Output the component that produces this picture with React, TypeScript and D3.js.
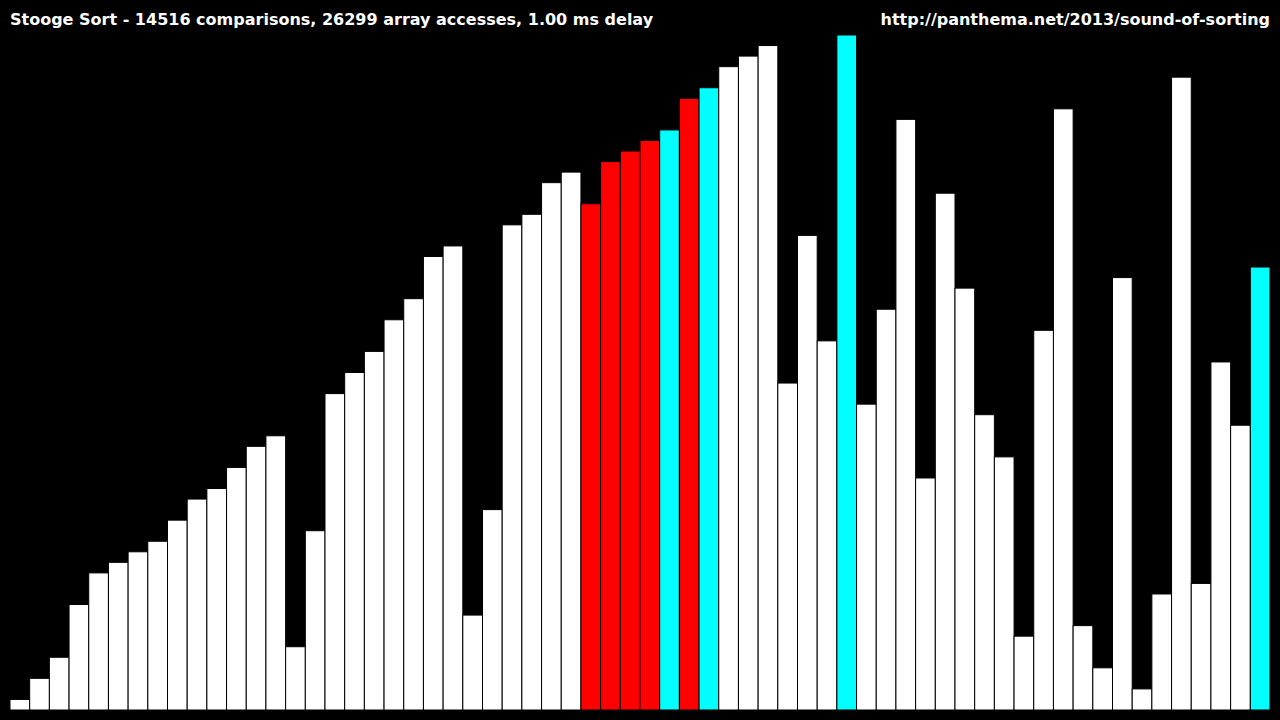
import React from "react";
import * as d3 from "d3";

const titleLeft = "Stooge Sort - 14516 comparisons, 26299 array accesses, 1.00 ms delay";
const titleRight = "http://panthema.net/2013/sound-of-sorting";

const values: number[] = [
  1, 3, 5, 10, 13, 14, 15, 16, 18, 20, 21, 23, 25, 26, 6, 17,
  30, 32, 34, 37, 39, 43, 44, 9, 19, 46, 47, 50, 51, 48, 52, 53,
  54, 55, 58, 59, 61, 62, 63, 31, 45, 35, 64, 29, 38, 56, 22, 49,
  40, 28, 24, 7, 36, 57, 8, 4, 41, 2, 11, 60, 12, 33, 27, 42,
];

// highlight state per bar index
const redIdx: number[] = [29, 30, 31, 32, 34];
const cyanIdx: number[] = [33, 35, 42, 63];

const W = 1280;
const H = 720;

export default function App() {
  const x = d3
    .scaleBand<number>()
    .domain(d3.range(values.length))
    .range([10, 1270])
    .padding(0);
  const y = d3.scaleLinear().domain([0, 64]).range([710, 35]);

  const colorOf = (i: number) =>
    redIdx.includes(i) ? "#ff0000" : cyanIdx.includes(i) ? "#00ffff" : "#ffffff";

  return (
    <div style={{ position: "fixed", left: 0, top: 0, width: W, height: H, background: "#000" }}>
      <svg width={W} height={H} style={{ display: "block" }}>
        <rect x={0} y={0} width={W} height={H} fill="#000" />
        {values.map((v, i) => (
          <rect
            key={i}
            x={x(i)!}
            y={y(v)}
            width={x.bandwidth()}
            height={y(0) - y(v)}
            fill={colorOf(i)}
            stroke="#000"
            strokeWidth={1}
          />
        ))}
        <text
          x={10}
          y={24.5}
          fill="#fff"
          fontFamily="DejaVu Sans"
          fontWeight="bold"
          fontSize={16}
        >
          {titleLeft}
        </text>
        <text
          x={1270}
          y={24.5}
          fill="#fff"
          fontFamily="DejaVu Sans"
          fontWeight="bold"
          fontSize={16}
          textAnchor="end"
        >
          {titleRight}
        </text>
      </svg>
    </div>
  );
}
